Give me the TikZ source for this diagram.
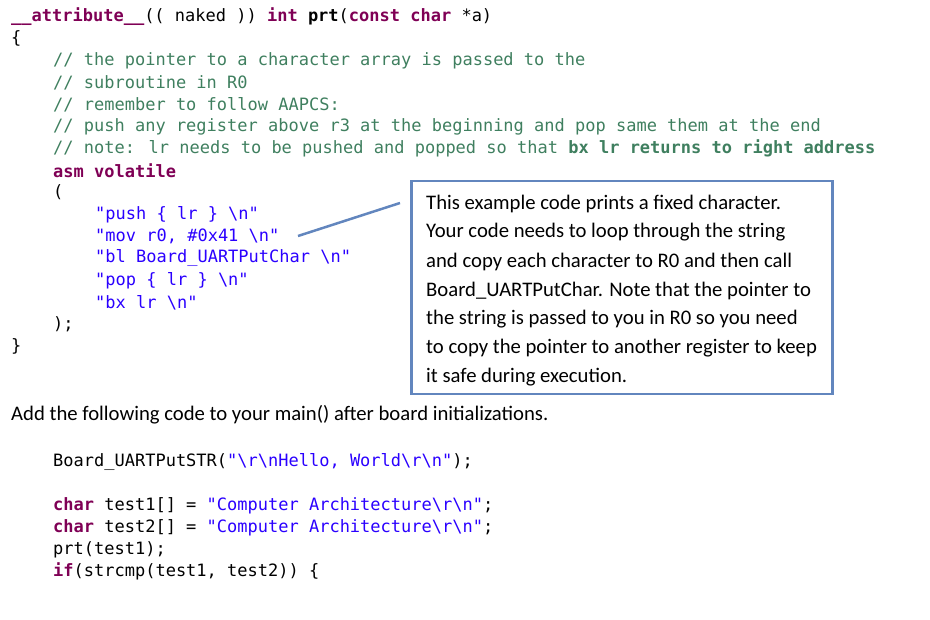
\documentclass[tikz,border=0pt]{standalone}
\usepackage{fontspec}
\setmainfont{Carlito}
\newfontfamily\codefont{DejaVu Sans Mono}[Scale=1]
\definecolor{kwc}{RGB}{127,0,85}
\definecolor{cmc}{RGB}{63,127,95}
\definecolor{stc}{RGB}{42,0,255}
\definecolor{boxc}{RGB}{98,134,190}
\newcommand\kw[1]{\textcolor{kwc}{\bfseries #1}}
\newcommand\cmt[1]{\textcolor{cmc}{#1}}
\newcommand\str[1]{\textcolor{stc}{#1}}
\newcommand\bs{\textbackslash}
\begin{document}
\begin{tikzpicture}[x=1pt,y=-1pt,
  code/.style={anchor=west,inner sep=0pt,yshift=-1.5pt,font=\codefont\fontsize{17}{20}\selectfont},
  prose/.style={anchor=west,inner sep=0pt,yshift=-1.5pt,font=\fontsize{20.7}{24}\selectfont}]
\useasboundingbox (0,0) rectangle (930,620);
\node[code] (l1) at (11,15) {\kw{\_\_attribute\_\_}(( naked )) \kw{int} \textbf{prt}(\kw{const} \kw{char} *a)};
\node[code] (l2) at (11,37) {\{};
\node[code] (l3) at (53,59) {\cmt{// the pointer to a character array is passed to the}};
\node[code] (l4) at (53,81) {\cmt{// subroutine in R0}};
\node[code] (l5) at (53,103) {\cmt{// remember to follow AAPCS:}};
\node[code] (l6) at (53,125) {\cmt{// push any register above r3 at the beginning and pop same them at the end}};
\node[code] (l7) at (53,147) {\cmt{// note: lr needs to be pushed and popped so that \textbf{bx lr returns to right address}}};
\node[code] (l8) at (53,169) {\kw{asm volatile}};
\node[code] (l9) at (53,191) {(};
\node[code] (l10) at (95,213) {\str{"push \{ lr \} \bs n"}};
\node[code] (l11) at (95,235) {\str{"mov r0, \#0x41 \bs n"}};
\node[code] (l12) at (95,257) {\str{"bl Board\_UARTPutChar \bs n"}};
\node[code] (l13) at (95,279) {\str{"pop \{ lr \} \bs n"}};
\node[code] (l14) at (95,301) {\str{"bx lr \bs n"}};
\node[code] (l15) at (53,323) {);};
\node[code] (l16) at (11,345) {\}};
\node[draw=boxc,line width=2.5pt,minimum width=421pt,minimum height=213pt,anchor=north west] (box) at (410,180) {};
\begin{scope}[every node/.style={prose}]
\node (t1) at (426,202) {This example code prints a fixed character.};
\node (t2) at (426,231) {Your code needs to loop through the string};
\node (t3) at (426,260) {and copy each character to R0 and then call};
\node (t4) at (426,289) {Board\_UARTPutChar. Note that the pointer to};
\node (t5) at (426,318) {the string is passed to you in R0 so you need};
\node (t6) at (426,347) {to copy the pointer to another register to keep};
\node (t7) at (426,376) {it safe during execution.};
\node (add) at (11,413) {Add the following code to your main() after board initializations.};
\end{scope}
\coordinate (cs) at (298,236);
\draw[boxc,line width=2.5pt] (cs) -- (400,203);
\node[code] (m1) at (53,461) {Board\_UARTPutSTR(\str{"\bs r\bs nHello, World\bs r\bs n"});};
\node[code] (m2) at (53,504) {\kw{char} test1[] = \str{"Computer Architecture\bs r\bs n"};};
\node[code] (m3) at (53,526) {\kw{char} test2[] = \str{"Computer Architecture\bs r\bs n"};};
\node[code] (m4) at (53,548) {prt(test1);};
\node[code] (m5) at (53,570) {\kw{if}(strcmp(test1, test2)) \{};
\end{tikzpicture}
\end{document}
